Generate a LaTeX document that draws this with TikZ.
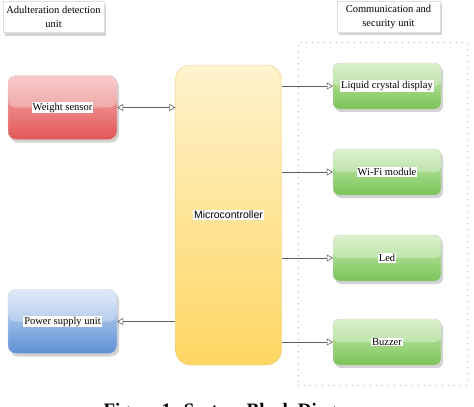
\documentclass[tikz,border=0pt]{standalone}
\usepackage{fontspec}
\setmainfont{Liberation Serif}
\setsansfont{Liberation Sans}
\usetikzlibrary{arrows.meta, shadows}

\definecolor{redtop}{RGB}{246,180,180}
\definecolor{redbot}{RGB}{226,86,86}
\definecolor{bluetop}{RGB}{210,226,247}
\definecolor{bluebot}{RGB}{94,144,212}
\definecolor{greentop}{RGB}{204,236,182}
\definecolor{greenbot}{RGB}{122,196,88}
\definecolor{yeltop}{RGB}{255,243,206}
\definecolor{yelbot}{RGB}{255,214,98}
\definecolor{yelline}{RGB}{232,204,128}
\definecolor{linkgray}{RGB}{95,95,95}

\newcommand{\whitetag}[1]{{\setlength{\fboxsep}{1pt}\colorbox{white}{#1}}}

\begin{document}
\begin{tikzpicture}[x=1pt, y=-1pt,
    every node/.style={font=\fontsize{10.5}{14}\selectfont},
    glossy/.style={path picture={\fill[white,opacity=0.3]
        (path picture bounding box.north west) rectangle (path picture bounding box.east);}},
    shadowed/.style={drop shadow={shadow xshift=2pt, shadow yshift=-3pt, opacity=0.35}},
    labelbox/.style={fill=white, draw=gray!25, align=center, inner sep=1pt,
        minimum width=101pt, minimum height=31pt, shadowed},
    unitbox/.style={rounded corners=8pt, draw=gray!35, glossy, shadowed,
        minimum width=109pt, minimum height=64pt},
    devbox/.style={rounded corners=6pt, draw=gray!35, glossy, shadowed,
        top color=greentop, bottom color=greenbot,
        minimum width=108pt, minimum height=46pt},
    mcubox/.style={rounded corners=15pt, draw=yelline,
        top color=yeltop, bottom color=yelbot,
        minimum width=106pt, minimum height=300pt},
    frame/.style={draw=gray!60, line width=1pt, dash pattern=on 1pt off 5pt,
        minimum width=169pt, minimum height=343pt},
    link/.style={draw=linkgray, line width=0.6pt, -{Triangle[open, length=6pt, width=7pt]}}
  ]
    \useasboundingbox (0,0) rectangle (474,407);

    \node[labelbox] (detlabel) at (53.5,17) {Adulteration detection\\unit};
    \node[labelbox, minimum width=103pt] (commlabel) at (388.5,16.5) {Communication and\\security unit};

    \node[frame] (commframe) at (382.5,213.5) {};

    \node[unitbox, top color=redtop, bottom color=redbot] (weight) at (62.5,107.5) {\whitetag{Weight sensor}};
    \node[unitbox, top color=bluetop, bottom color=bluebot] (power) at (62.5,321.5) {\whitetag{Power supply unit}};

    \node[mcubox] (mcu) at (228.5,215) {\sffamily\whitetag{Microcontroller}};

    \node[devbox] (lcd) at (387,86) {\whitetag{Liquid crystal display}};
    \node[devbox] (wifi) at (387,172) {\whitetag{Wi-Fi module}};
    \node[devbox] (led) at (387,258) {\whitetag{Led}};
    \node[devbox] (buzzer) at (387,342) {\whitetag{Buzzer}};

    \draw[link, {Triangle[open, length=6pt, width=7pt]}-{Triangle[open, length=6pt, width=7pt]}]
    (weight) -- (weight -| mcu.west);
    \draw[link] (power -| mcu.west) -- (power);

    \draw[link] (mcu.east |- lcd) -- (lcd);
    \draw[link] (mcu.east |- wifi) -- (wifi);
    \draw[link] (mcu.east |- led) -- (led);
    \draw[link] (mcu.east |- buzzer) -- (buzzer);

    \node[font=\bfseries\fontsize{19}{22}\selectfont, anchor=base west] (caption) at (100,416.5)
    {Figure 1: System Block Diagram};
  \end{tikzpicture}
\end{document}
